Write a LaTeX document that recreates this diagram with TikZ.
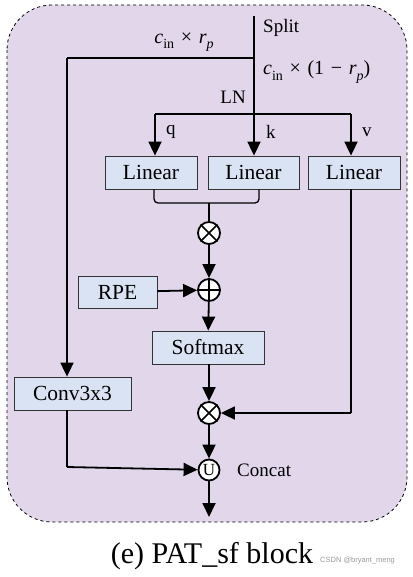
\documentclass[tikz,border=0pt]{standalone}
\usepackage{fontspec}
\setmainfont{Liberation Serif}
\newfontfamily\wmfont{Liberation Sans}
\usetikzlibrary{arrows.meta,calc}
\definecolor{bgpurple}{HTML}{E2D6EB}
\definecolor{boxblue}{HTML}{DAE3F3}
\newcommand{\mysub}[1]{\raisebox{-0.28em}{\fontsize{14}{16}\selectfont #1}}
\begin{document}
\begin{tikzpicture}[x=1pt,y=-1pt,
  box/.style={draw=black!80, line width=0.8pt, fill=boxblue, minimum height=33pt, inner sep=0pt, font=\fontsize{21.5}{24}\selectfont},
  wire/.style={line width=1.8pt},
  thin wire/.style={line width=1.3pt},
  arr/.style={wire,-{Triangle[length=14pt,width=13pt]}},
  op/.style={circle, draw, line width=1.8pt, minimum size=22pt, inner sep=0pt, fill=white},
  lbl/.style={font=\fontsize{19}{22}\selectfont, inner sep=0pt},
  mlbl/.style={font=\fontsize{20}{23}\selectfont, inner sep=0pt}]
\useasboundingbox (0,0) rectangle (412,577);
\draw[fill=bgpurple, dashed, line width=0.8pt, rounded corners=45pt] (7,5) rectangle (407,522);

% nodes
\node[box, minimum width=92pt] (l1) at (151,172.5) {Linear};
\node[box, minimum width=91pt] (l2) at (253.5,172.5) {Linear};
\node[box, minimum width=92pt] (l3) at (354,172.5) {Linear};
\node[op] (m1) at (209,233) {};
\node[op] (a1) at (209,290) {};
\node[box, minimum width=79pt, minimum height=32pt] (rpe) at (117.5,292) {RPE};
\node[box, minimum width=112pt] (soft) at (208,347.5) {Softmax};
\node[op] (m2) at (209,413) {};
\node[box, minimum width=117pt] (conv) at (72.5,393.5) {Conv3x3};
\node[op, minimum size=21pt, font=\fontsize{17}{20}\selectfont] (cat) at (209,470) {U};
\coordinate (split) at (254,16);
\coordinate (br) at (254,58);
\coordinate (left) at (67,58);
\coordinate (ln) at (254,114);
\coordinate (lnq) at (155,114);
\coordinate (lnv) at (351,114);
\coordinate (brace) at (209,203);
\coordinate (out) at (209,517);

% crosses
\draw[line width=1.6pt] (m1.45) -- (m1.225) (m1.135) -- (m1.315);
\draw[line width=1.6pt] (m2.45) -- (m2.225) (m2.135) -- (m2.315);
\draw[line width=1.6pt] (a1.north) -- (a1.south) (a1.west) -- (a1.east);

% labels
\node[lbl, anchor=west] (tsplit) at (263,28) {Split};
\node[mlbl] (trp) at (184,42) {\textit{c}\mysub{in}\,\,×\,\,\textit{r}\mysub{\textit{p}}};
\node[mlbl, anchor=west] (trp2) at (263,72) {\textit{c}\mysub{in}\,\,×\,\,(1\,\,−\,\,\textit{r}\mysub{\textit{p}})};
\node[lbl, anchor=east] (tln) at (246,97) {LN};
\node[lbl, anchor=west] (tq) at (166,132) {q};
\node[lbl, anchor=west] (tk) at (266,132) {k};
\node[lbl, anchor=west] (tv) at (362,132) {v};
\node[lbl, anchor=west] (tcat) at (237,470) {Concat};

% connectors
\draw[wire] (split) -- (ln);
\draw[wire] (lnq) -- (lnv);
\draw[arr] (lnq) -- (l1.north -| lnq);
\draw[arr] (ln) -- (l2.north -| ln);
\draw[arr] (lnv) -- (l3.north -| lnv);
\draw[wire] (br) -- (left);
\draw[arr] (left) -- (conv.north -| left);
\draw[thin wire, rounded corners=4pt] (l1.south -| 154,0) -- (154,203) -- (259,203) -- (l2.south -| 259,0);
\draw[thin wire] (brace) -- (m1.north);
\draw[arr] (m1) -- (a1);
\draw[arr] (rpe) -- (a1);
\draw[arr] (a1) -- (soft);
\draw[arr] (soft.south -| m2) -- (m2);
\draw[thin wire] (l3.south -| lnv) -- (lnv |- m2);
\draw[arr] (lnv |- m2) -- (m2);
\draw[arr] (m2) -- (cat);
\draw[thin wire] (conv.south -| left) -- (67,467);
\draw[arr] (67,467) -- (cat);
\draw[arr] (cat) -- (out);

% caption
\node[font=\fontsize{30}{33}\selectfont, inner sep=0pt] (cap) at (212,556) {(e) PAT\_sf block};
\node[font=\wmfont\fontsize{7.5}{9}\selectfont, text=black!40, anchor=west, inner sep=0pt] (wm) at (320,561) {CSDN @bryant\_meng};
\end{tikzpicture}
\end{document}
